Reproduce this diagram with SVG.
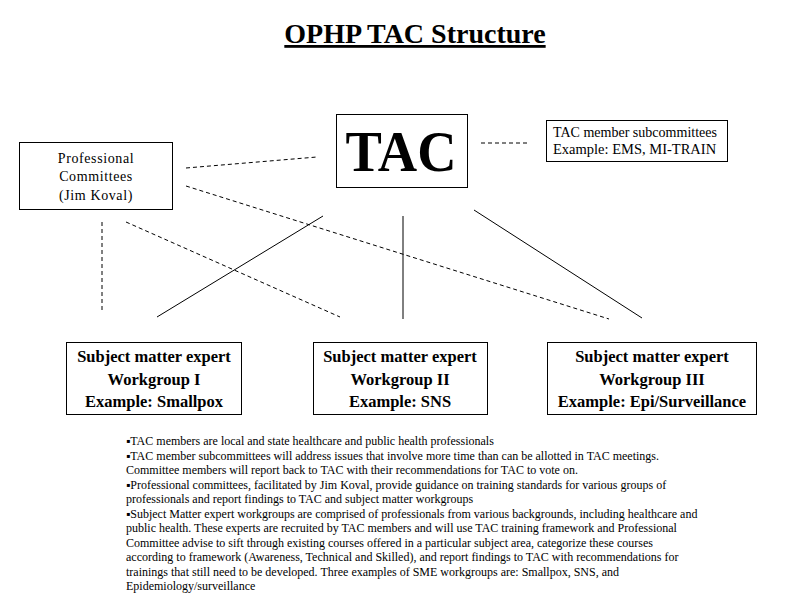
<svg xmlns="http://www.w3.org/2000/svg" width="792" height="612" viewBox="0 0 792 612">
<style>
.box{fill:#fff;stroke:#000;stroke-width:1}
.ser{font-family:'Liberation Serif','Times New Roman',serif;fill:#000}
.wg{font-size:16.5px;font-weight:bold;text-anchor:middle}
.dash{stroke:#000;stroke-width:1;stroke-dasharray:4,3;fill:none}
.solid{stroke:#000;stroke-width:1;fill:none}
.note{font-size:12px}
</style>
<rect width="792" height="612" fill="#fff"/>
<text class="ser" x="415" y="43" font-size="28" font-weight="bold" text-anchor="middle" text-decoration="underline">OPHP TAC Structure</text>
<g id="connectors">
<line class="dash" x1="186" y1="168" x2="317" y2="157"/>
<line class="dash" x1="186" y1="186" x2="609" y2="319"/>
<line class="dash" x1="102" y1="222" x2="102" y2="311"/>
<line class="dash" x1="126" y1="222" x2="340" y2="317"/>
<line class="dash" x1="481" y1="143" x2="529" y2="143"/>
<line class="solid" x1="323" y1="216" x2="157" y2="317"/>
<line class="solid" x1="403" y1="216" x2="403" y2="319"/>
<line class="solid" x1="474" y1="210" x2="642" y2="318"/>
</g>
<g id="prof">
<rect class="box" x="19.5" y="142.5" width="153" height="67"/>
<g class="ser" font-size="14" text-anchor="middle" letter-spacing="0.6">
<text x="96" y="163">Professional</text>
<text x="96" y="181">Committees</text>
<text x="96" y="200">(Jim Koval)</text>
</g>
</g>
<g id="tac">
<rect class="box" x="336.5" y="114.5" width="131" height="73"/>
<text class="ser" x="401" y="171" font-size="58" font-weight="bold" text-anchor="middle" textLength="111" lengthAdjust="spacingAndGlyphs">TAC</text>
</g>
<g id="sub">
<rect class="box" x="546.5" y="120.5" width="181" height="41"/>
<g class="ser" font-size="14.5">
<text x="553" y="137" textLength="164" lengthAdjust="spacingAndGlyphs">TAC member subcommittees</text>
<text x="553" y="154">Example: EMS, MI-TRAIN</text>
</g>
</g>
<g id="wg1">
<rect class="box" x="66.5" y="342.5" width="175" height="72"/>
<g class="ser wg">
<text x="154" y="362">Subject matter expert</text>
<text x="154" y="385">Workgroup I</text>
<text x="154" y="407">Example: Smallpox</text>
</g>
</g>
<g id="wg2">
<rect class="box" x="313.5" y="342.5" width="174" height="72"/>
<g class="ser wg">
<text x="400" y="362">Subject matter expert</text>
<text x="400" y="385">Workgroup II</text>
<text x="400" y="407">Example: SNS</text>
</g>
</g>
<g id="wg3">
<rect class="box" x="547.5" y="342.5" width="209" height="72"/>
<g class="ser wg">
<text x="652" y="362">Subject matter expert</text>
<text x="652" y="385">Workgroup III</text>
<text x="652" y="407">Example: Epi/Surveillance</text>
</g>
</g>
<g id="notes" class="ser note">
<text x="126" y="445">▪TAC members are local and state healthcare and public health professionals</text>
<text x="126" y="460">▪TAC member subcommittees will address issues that involve more time than can be allotted in TAC meetings.</text>
<text x="126" y="474">Committee members will report back to TAC with their recommendations for TAC to vote on.</text>
<text x="126" y="489">▪Professional committees, facilitated by Jim Koval, provide guidance on training standards for various groups of</text>
<text x="126" y="503">professionals and report findings to TAC and subject matter workgroups</text>
<text x="126" y="518">▪Subject Matter expert workgroups are comprised of professionals from various backgrounds, including healthcare and</text>
<text x="126" y="532">public health. These experts are recruited by TAC members and will use TAC training framework and Professional</text>
<text x="126" y="547">Committee advise to sift through existing courses offered in a particular subject area, categorize these courses</text>
<text x="126" y="561">according to framework (Awareness, Technical and Skilled), and report findings to TAC with recommendations for</text>
<text x="126" y="576">trainings that still need to be developed. Three examples of SME workgroups are: Smallpox, SNS, and</text>
<text x="126" y="590">Epidemiology/surveillance</text>
</g>
</svg>
